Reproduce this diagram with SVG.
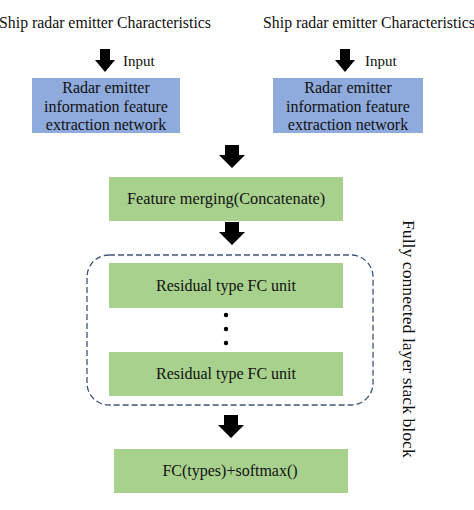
<svg xmlns="http://www.w3.org/2000/svg" width="474" height="510" viewBox="0 0 474 510">
<style>
text{font-family:"Liberation Serif","Times New Roman",serif;fill:#111;font-size:16px}
.c{text-anchor:middle}
.blue{fill:#8faadc}
.green{fill:#a9d18e}
.arr{fill:#000}
</style>
<defs>
<path id="a1" d="M-5,0 H5 V11 H10 L0,23 L-10,11 H-5 Z"/>
<path id="a2" d="M-7,0 H7 V10 H13 L0,23 L-13,10 H-7 Z"/>
</defs>
<rect width="474" height="510" fill="#fff"/>
<g id="title-left"><text x="105" y="28" class="c" style="font-size:15.8px">Ship radar emitter Characteristics</text></g>
<g id="title-right"><text x="369" y="28" class="c" style="font-size:15.8px">Ship radar emitter Characteristics</text></g>
<g id="connectors">
<use href="#a1" x="105" y="49" class="arr"/>
<use href="#a1" x="345" y="49" class="arr"/>
<use href="#a2" x="232" y="145" class="arr"/>
<use href="#a2" x="232" y="222" class="arr"/>
<use href="#a2" x="231" y="415" class="arr"/>
</g>
<g id="input-left"><text x="123" y="66" style="font-size:15px">Input</text></g>
<g id="input-right"><text x="365" y="66" style="font-size:15px">Input</text></g>
<g id="extract-left">
<rect x="32" y="78" width="148" height="55" class="blue"/>
<text x="106" y="93" class="c">Radar emitter</text>
<text x="106" y="111.5" class="c">information feature</text>
<text x="106" y="130" class="c">extraction network</text>
</g>
<g id="extract-right">
<rect x="273" y="78" width="150" height="55" class="blue"/>
<text x="348" y="93" class="c">Radar emitter</text>
<text x="348" y="111.5" class="c">information feature</text>
<text x="348" y="130" class="c">extraction network</text>
</g>
<g id="merge">
<rect x="109" y="177" width="234" height="44" class="green"/>
<text x="226" y="204" class="c" style="font-size:16.3px">Feature merging(Concatenate)</text>
</g>
<g id="fc-stack">
<rect x="87" y="255" width="286" height="150" rx="22" ry="22" fill="none" stroke="#3f5578" stroke-width="1.3" stroke-dasharray="6,3"/>
<text transform="translate(403,220) rotate(90)" style="font-size:17.7px">Fully connected layer stack block</text>
</g>
<g id="residual-1">
<rect x="109" y="263" width="234" height="45" class="green"/>
<text x="226" y="291" class="c">Residual type FC unit</text>
</g>
<g id="dots">
<circle cx="226" cy="315" r="2.2" fill="#000"/>
<circle cx="226" cy="329" r="2.2" fill="#000"/>
<circle cx="226" cy="343" r="2.2" fill="#000"/>
</g>
<g id="residual-2">
<rect x="109" y="352" width="234" height="44" class="green"/>
<text x="226" y="379" class="c">Residual type FC unit</text>
</g>
<g id="output">
<rect x="114" y="449" width="234" height="44" class="green"/>
<text x="230" y="476" class="c">FC(types)+softmax()</text>
</g>
</svg>
